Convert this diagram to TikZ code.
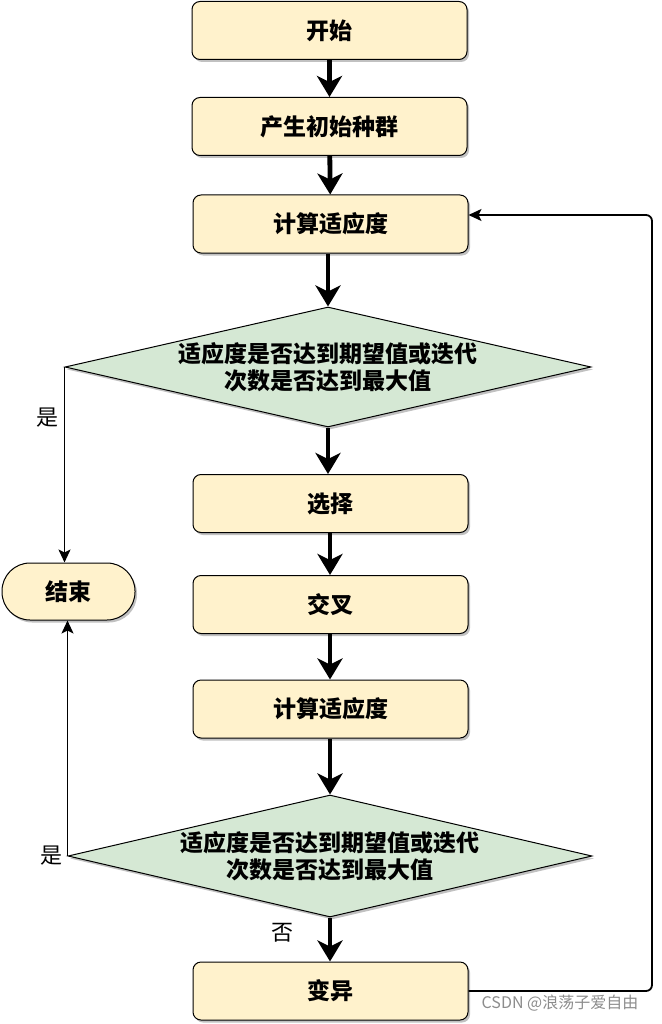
\documentclass[tikz,border=0pt]{standalone}
\usepackage{fontspec}
\setmainfont{Noto Sans CJK SC}
\usetikzlibrary{shapes.geometric,arrows.meta,shadows}
\definecolor{boxfill}{HTML}{FFF2CC}
\definecolor{decfill}{HTML}{D5E8D4}
\tikzset{
  myshadow/.style={drop shadow={shadow xshift=2pt,shadow yshift=-2.5pt,opacity=0.35,fill=black!70}},
  procbox/.style={rectangle,rounded corners=8pt,draw=black,line width=1pt,fill=boxfill,
    minimum width=275pt,minimum height=58pt,inner sep=0pt,font=\fontsize{23}{28}\selectfont\bfseries,myshadow},
  endbox/.style={rectangle,rounded corners=28pt,draw=black,line width=1pt,fill=boxfill,
    minimum width=133pt,minimum height=57pt,inner sep=0pt,font=\fontsize{23}{28}\selectfont\bfseries,myshadow},
  decbox/.style={diamond,draw=black,line width=1pt,fill=decfill,inner sep=0pt,
    minimum width=526pt,minimum height=120pt,myshadow},
  dectext/.style={align=center,inner sep=0pt,font=\fontsize{23}{27}\selectfont\bfseries},
  bigarrow/.style={line width=4.8pt,-{Stealth[length=21pt,width=25pt,inset=6pt]}},
  thinarrow/.style={line width=1.8pt,-{Stealth[length=13pt,width=12pt,inset=3pt]}},
  lab/.style={font=\fontsize{22}{26}\selectfont,inner sep=0pt}
}
\begin{document}
\begin{tikzpicture}[x=1pt,y=-1pt]
\useasboundingbox (0,0) rectangle (661,1024);
\node[procbox] (start) at (329.5,30.5) {开始};
\node[procbox] (init) at (329.5,126.5) {产生初始种群};
\node[procbox] (fit1) at (330.5,224) {计算适应度};
\node[decbox] (d1) at (328,367) {};
\node[dectext] (d1t) at (328,367) {适应度是否达到期望值或迭代\\次数是否达到最大值};
\node[procbox] (sel) at (330.5,503.5) {选择};
\node[procbox] (cross) at (330.5,604.5) {交叉};
\node[procbox] (fit2) at (330.5,709) {计算适应度};
\node[decbox,minimum width=524pt,minimum height=122pt] (d2) at (330,856) {};
\node[dectext] (d2t) at (330,856) {适应度是否达到期望值或迭代\\次数是否达到最大值};
\node[procbox] (mut) at (330.5,991) {变异};
\node[endbox] (end) at (68.5,591.5) {结束};
\coordinate (loopA) at (652,991);
\coordinate (loopB) at (652,215);

\draw[bigarrow] (start) -- (init);
\draw[bigarrow] (init) -- (fit1);
\draw[bigarrow] (fit1.south -| d1.north) -- (d1.north);
\draw[bigarrow] (d1.south) -- (d1.south |- sel.north);
\draw[bigarrow] (sel.south -| 330,0) -- (cross.north -| 330,0);
\draw[bigarrow] (cross.south -| 330,0) -- (fit2.north -| 330,0);
\draw[bigarrow] (fit2.south -| d2.north) -- (d2.north);
\draw[bigarrow] (d2.south) -- (d2.south |- mut.north);

\draw[thinarrow] (d1.west) -- (d1.west |- end.north);
\draw[thinarrow] (d2.west) -- (d2.west |- end.south);
\draw[thinarrow,rounded corners=6pt] (mut.east) -- (loopA) -- (loopB) -- (fit1.east |- loopB);

\node[lab] (yes1) at (47,418) {是};
\node[lab] (yes2) at (51,856) {是};
\node[lab] (no) at (282,933) {否};
\node[font=\fontsize{16}{18}\selectfont,text=black!45,inner sep=0pt] (wm) at (560,1003) {CSDN @浪荡子爱自由};
\end{tikzpicture}
\end{document}
